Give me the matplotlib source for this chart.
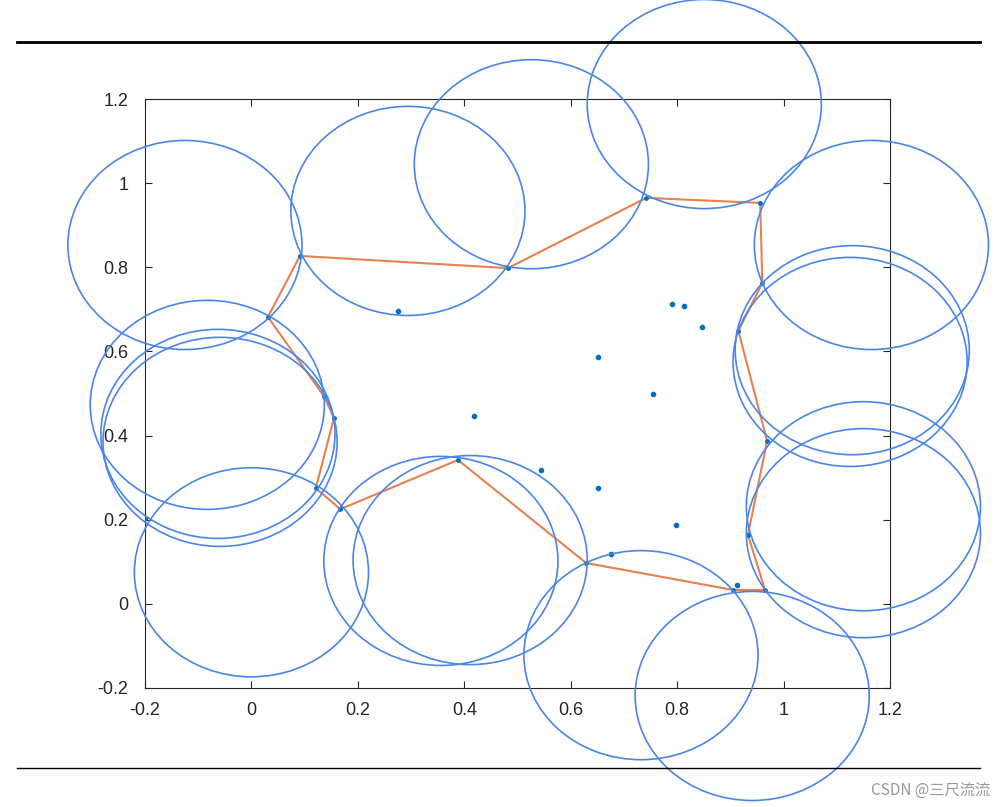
import matplotlib.pyplot as plt
from matplotlib.patches import Ellipse
from matplotlib.lines import Line2D

plt.rcParams['font.family'] = ['Liberation Sans', 'DejaVu Sans']

# boundary path (closed)
bx = [0.091, 0.482, 0.742, 0.956, 0.960, 0.915, 0.969, 0.933, 0.965, 0.905,
      0.629, 0.388, 0.167, 0.121, 0.155, 0.136, 0.031, 0.091]
by = [0.827, 0.798, 0.965, 0.953, 0.763, 0.649, 0.387, 0.164, 0.033, 0.033,
      0.097, 0.342, 0.225, 0.275, 0.442, 0.494, 0.682, 0.827]

# interior / other points
px = [0.276, 0.418, 0.544, 0.652, 0.652, 0.755, 0.791, 0.813, 0.847, 0.798,
      0.676, 0.913, -0.2]
py = [0.696, 0.447, 0.318, 0.275, 0.587, 0.499, 0.713, 0.708, 0.658, 0.187,
      0.118, 0.045, 0.204]

# circle centres
cx = [-0.125, 0.294, 0.526, 0.851, 1.165, 1.129, 1.125, 1.150, 1.150,
      -0.083, -0.063, -0.059, 0.0, 0.356, 0.411, 0.732, 0.941]
cy = [0.853, 0.934, 1.045, 1.188, 0.853, 0.603, 0.575, 0.232, 0.168,
      0.473, 0.404, 0.385, 0.075, 0.102, 0.104, -0.122, -0.219]
cw, ch = 0.44, 0.497

fig = plt.figure(figsize=(10.05, 8.07), dpi=100)
ax = fig.add_axes([0.1443, 0.1475, 0.7413, 0.7298])

ax.plot(bx, by, color='#e8804f', lw=1.5, zorder=2)
ax.plot(bx[:-1], by[:-1], '.', color='#0072bd', ms=5, zorder=3)
ax.plot(px, py, '.', color='#0072bd', ms=6, zorder=3)
for x, y in zip(cx, cy):
    ax.add_patch(Ellipse((x, y), cw, ch, fill=False, ec='#4a86e8', lw=1.2,
                         clip_on=False, zorder=4))

ax.set_xlim(-0.2, 1.2)
ax.set_ylim(-0.2, 1.2)
ticks = [-0.2, 0, 0.2, 0.4, 0.6, 0.8, 1, 1.2]
labels = ['-0.2', '0', '0.2', '0.4', '0.6', '0.8', '1', '1.2']
ax.set_xticks(ticks)
ax.set_yticks(ticks)
ax.set_xticklabels(labels)
ax.set_yticklabels(labels)
ax.tick_params(direction='in', top=True, right=True, labelsize=13,
               colors='#262626', length=5)
ax.tick_params(axis='x', pad=10)
ax.tick_params(axis='y', pad=12)
for s in ax.spines.values():
    s.set_color('#262626')
    s.set_linewidth(0.8)

fig.add_artist(Line2D([0.017, 0.975], [1 - 42/807] * 2, color='black', lw=2))
fig.add_artist(Line2D([0.017, 0.975], [1 - 768/807] * 2, color='black', lw=1))
fig.text(0.985, 1 - 790/807, 'CSDN @三尺流流', ha='right', va='center',
         fontsize=11, color='#999999',
         family=['Noto Sans CJK SC', 'DejaVu Sans'])

fig.savefig('out.png')
